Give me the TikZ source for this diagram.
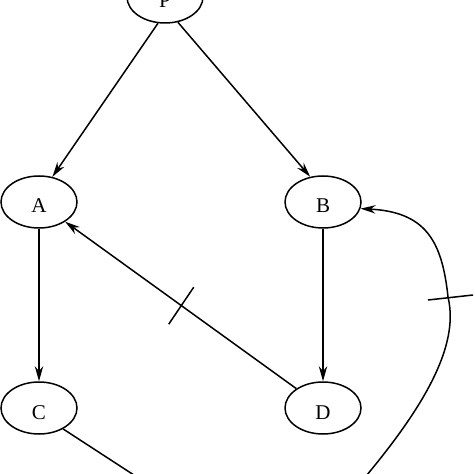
\documentclass[tikz,border=0pt]{standalone}
\usepackage{fontspec}
\setmainfont{Liberation Serif}
\usetikzlibrary{shapes.geometric,arrows.meta,calc}
\begin{document}
\begin{tikzpicture}[x=0.5pt,y=-0.5pt,
  var/.style={draw,ellipse,minimum width=38pt,minimum height=26pt,inner sep=0pt,
    line width=0.75pt,font=\fontsize{10.5pt}{12pt}\selectfont,text height=11pt,text depth=0pt},
  edge/.style={line width=0.75pt,-{Stealth[length=7.5pt,width=4.2pt]}},
  plain/.style={line width=0.75pt}]
\useasboundingbox (0,0) rectangle (474,474);
\clip (0,0) rectangle (474,474);
\node[var] (P) at (165,-3) {P};
\node[var] (A) at (39,202) {A};
\node[var] (B) at (323,202) {B};
\node[var] (C) at (39,408) {C};
\node[var] (D) at (323,408) {D};
\coordinate (cOut) at (180,505);
\coordinate (rIn) at (335,512);
\coordinate (rt) at (448,297);
\draw[edge] (P.255) -- (A.62);
\draw[edge] (P.297) -- (B.117);
\draw[edge] (A.south) -- (C.north);
\draw[edge] (B.south) -- (D.north);
\draw[edge] (D.144) -- coordinate[pos=0.5] (t1) (A.323);
\draw[plain] ($(t1)+(13,-18)$) -- ($(t1)+(-12,19)$);
\draw[plain] (C.319) -- (cOut);
\draw[edge] (rIn) .. controls (408,430) and (462,355) .. (rt)
  .. controls (442,240) and (425,212) .. (B.-10);
\draw[plain] ($(rt)+(-20,3)$) -- ($(rt)+(25,-2)$);
\end{tikzpicture}
\end{document}
